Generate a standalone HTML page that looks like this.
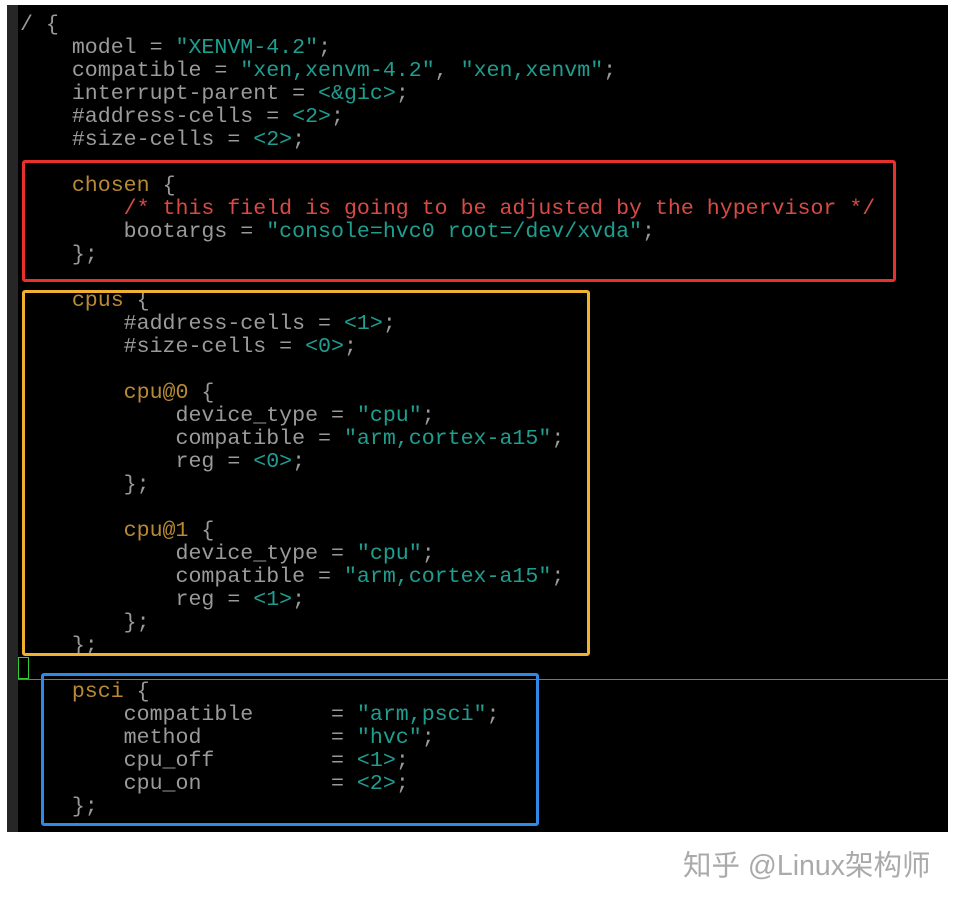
<!DOCTYPE html>
<html><head><meta charset="utf-8"><style>
html,body{margin:0;padding:0;background:#fff;width:956px;height:901px;overflow:hidden;position:relative}
#term{position:absolute;left:7px;top:5px;width:941px;height:827px;background:#000}
#gut{position:absolute;left:7px;top:5px;width:11px;height:827px;background:#262626}
pre{position:absolute;left:20px;top:14px;margin:0;font-family:"Liberation Mono",monospace;font-size:21.6px;line-height:23px;color:#9a9a9a;white-space:pre}
.s{color:#1f9e90}.n{color:#b88a34}.c{color:#d84a44}
.box{position:absolute;border:3px solid;border-radius:3px;box-sizing:border-box}
#wm{position:absolute;left:683px;top:843px;font-family:"Liberation Sans","Noto Sans CJK SC",sans-serif;font-size:28.5px;color:#aaa}
</style></head><body>
<div id="term"></div><div id="gut"></div>
<div style="position:absolute;left:18px;top:679px;width:930px;height:1px;background:#777"></div>
<div style="position:absolute;left:18px;top:657px;width:11px;height:22px;border:1px solid #3c3;box-sizing:border-box"></div>
<pre>/ {
    model = <span class="s">"XENVM-4.2"</span>;
    compatible = <span class="s">"xen,xenvm-4.2"</span>, <span class="s">"xen,xenvm"</span>;
    interrupt-parent = <span class="s">&lt;&amp;gic&gt;</span>;
    #address-cells = <span class="s">&lt;2&gt;</span>;
    #size-cells = <span class="s">&lt;2&gt;</span>;

    <span class="n">chosen</span> {
        <span class="c">/* this field is going to be adjusted by the hypervisor */</span>
        bootargs = <span class="s">"console=hvc0 root=/dev/xvda"</span>;
    };

    <span class="n">cpus</span> {
        #address-cells = <span class="s">&lt;1&gt;</span>;
        #size-cells = <span class="s">&lt;0&gt;</span>;

        <span class="n">cpu@0</span> {
            device_type = <span class="s">"cpu"</span>;
            compatible = <span class="s">"arm,cortex-a15"</span>;
            reg = <span class="s">&lt;0&gt;</span>;
        };

        <span class="n">cpu@1</span> {
            device_type = <span class="s">"cpu"</span>;
            compatible = <span class="s">"arm,cortex-a15"</span>;
            reg = <span class="s">&lt;1&gt;</span>;
        };
    };

    <span class="n">psci</span> {
        compatible      = <span class="s">"arm,psci"</span>;
        method          = <span class="s">"hvc"</span>;
        cpu_off         = <span class="s">&lt;1&gt;</span>;
        cpu_on          = <span class="s">&lt;2&gt;</span>;
    };</pre>
<div class="box" style="left:22px;top:160px;width:874px;height:122px;border-color:#e8302c"></div>
<div class="box" style="left:22px;top:290px;width:568px;height:366px;border-color:#f0b030"></div>
<div class="box" style="left:41px;top:673px;width:498px;height:153px;border-color:#2e8ae6"></div>
<div id="wm">知乎 @Linux架构师</div>
</body></html>
